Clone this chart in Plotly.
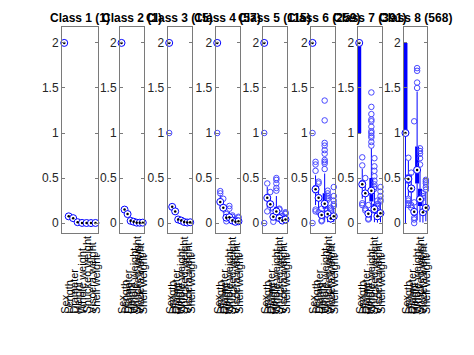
import plotly.graph_objects as go

FEATURES = ["Sex", "Length", "Diameter", "Height", "Whole weight",
            "Shucked weight", "Viscera weight", "Shell weight"]
CLASS_N = [1, 1, 15, 57, 115, 259, 391, 568]

# per class (rows) x per feature (columns)
MEDIAN = [
    [2, 0.075, 0.055, 0.010, 0.002, 0.001, 0.0005, 0.0015],
    [2, 0.150, 0.100, 0.025, 0.015, 0.0045, 0.004, 0.005],
    [2, 0.180, 0.130, 0.040, 0.028, 0.012, 0.006, 0.009],
    [2, 0.235, 0.170, 0.060, 0.065, 0.028, 0.014, 0.020],
    [2, 0.280, 0.210, 0.070, 0.130, 0.055, 0.028, 0.040],
    [2, 0.375, 0.280, 0.090, 0.215, 0.100, 0.050, 0.075],
    [2, 0.430, 0.330, 0.105, 0.360, 0.155, 0.075, 0.110],
    [1, 0.490, 0.385, 0.125, 0.590, 0.265, 0.120, 0.170],
]
Q1 = [
    [2, 0.075, 0.055, 0.010, 0.002, 0.001, 0.0005, 0.0015],
    [2, 0.150, 0.100, 0.025, 0.015, 0.0045, 0.004, 0.005],
    [2, 0.165, 0.120, 0.035, 0.020, 0.009, 0.004, 0.007],
    [2, 0.210, 0.155, 0.050, 0.045, 0.020, 0.010, 0.014],
    [2, 0.250, 0.190, 0.060, 0.090, 0.040, 0.020, 0.030],
    [2, 0.330, 0.245, 0.080, 0.160, 0.070, 0.035, 0.050],
    [1, 0.390, 0.300, 0.095, 0.240, 0.110, 0.055, 0.080],
    [1, 0.440, 0.340, 0.110, 0.440, 0.190, 0.090, 0.120],
]
Q3 = [
    [2, 0.075, 0.055, 0.010, 0.002, 0.001, 0.0005, 0.0015],
    [2, 0.150, 0.100, 0.025, 0.015, 0.0045, 0.004, 0.005],
    [2, 0.195, 0.145, 0.045, 0.035, 0.016, 0.008, 0.012],
    [2, 0.260, 0.195, 0.065, 0.085, 0.036, 0.018, 0.027],
    [2, 0.320, 0.240, 0.080, 0.180, 0.075, 0.038, 0.055],
    [2, 0.420, 0.315, 0.105, 0.330, 0.140, 0.070, 0.100],
    [2, 0.475, 0.360, 0.120, 0.500, 0.215, 0.100, 0.140],
    [2, 0.540, 0.420, 0.140, 0.850, 0.380, 0.160, 0.210],
]
WLO = [
    [2, 0.075, 0.055, 0.010, 0.002, 0.001, 0.0005, 0.0015],
    [2, 0.150, 0.100, 0.025, 0.015, 0.0045, 0.004, 0.005],
    [2, 0.130, 0.095, 0.025, 0.010, 0.004, 0.002, 0.004],
    [2, 0.160, 0.115, 0.035, 0.015, 0.006, 0.003, 0.005],
    [2, 0.170, 0.130, 0.035, 0.020, 0.010, 0.004, 0.008],
    [2, 0.200, 0.150, 0.045, 0.015, 0.010, 0.005, 0.010],
    [1, 0.270, 0.200, 0.065, 0.030, 0.010, 0.005, 0.010],
    [0, 0.300, 0.220, 0.070, 0.030, 0.010, 0.005, 0.020],
]
WHI = [
    [2, 0.075, 0.055, 0.010, 0.002, 0.001, 0.0005, 0.0015],
    [2, 0.150, 0.100, 0.025, 0.015, 0.0045, 0.004, 0.005],
    [2, 0.210, 0.165, 0.060, 0.060, 0.025, 0.012, 0.020],
    [2, 0.310, 0.235, 0.080, 0.130, 0.050, 0.028, 0.045],
    [2, 0.400, 0.300, 0.105, 0.300, 0.120, 0.060, 0.090],
    [2, 0.530, 0.410, 0.140, 0.550, 0.240, 0.120, 0.170],
    [2, 0.600, 0.460, 0.160, 0.830, 0.370, 0.165, 0.230],
    [2, 0.690, 0.540, 0.185, 1.460, 0.600, 0.260, 0.350],
]
OUTLIERS = [
    [[], [], [], [], [], [], [], []],
    [[], [], [], [], [], [], [], []],
    [[1], [], [], [], [], [], [], []],
    [[1], [0.355, 0.33], [0.27], [0.02, 0.10], [0.19, 0.16], [0.07, 0.085], [0.04], [0.06, 0.07]],
    [[1, 0], [0.44, 0.13], [0.345], [0.12, 0.015], [0.36, 0.39, 0.44, 0.48, 0.50],
     [0.15, 0.16], [0.075, 0.08], [0.10, 0.11, 0.12]],
    [[1, 0], [0.58, 0.65, 0.68, 0.15, 0.13], [0.44, 0.46, 0.12], [0.16, 0.02, 0.03],
     [0.60, 0.66, 0.68, 0.70, 0.77, 0.81, 0.86, 0.89, 1.14, 1.36],
     [0.26, 0.28, 0.30, 0.33, 0.36], [0.13, 0.15, 0.17], [0.19, 0.21, 0.25, 0.30, 0.40]],
    [[], [0.20, 0.22, 0.64, 0.73], [0.14, 0.16, 0.50], [0.04, 0.05, 0.20],
     [0.86, 0.90, 0.95, 0.97, 1.00, 1.02, 1.07, 1.13, 1.15, 1.21, 1.29, 1.45],
     [0.38, 0.40, 0.43, 0.47, 0.52, 0.58, 0.63, 0.72], [0.17, 0.19, 0.21, 0.25],
     [0.24, 0.26, 0.30, 0.35, 0.40]],
    [[], [0.725, 0.20, 0.22, 0.25, 0.27], [0.17, 0.20, 0.56], [1.13, 0.23, 0.0, 0.04, 0.06],
     [1.50, 1.56, 1.69, 1.72], [0.65, 0.72, 0.77, 0.80, 0.83], [0.28, 0.30, 0.33],
     [0.37, 0.40, 0.44, 0.46, 0.48]],
]

W, H = 474, 355
PANELS = [(62, 97.7), (120, 144.3), (167.7, 191.7), (215.7, 240),
          (262.7, 287), (311, 335.3), (357.7, 382), (404, 427.3)]
TOP, BOTTOM = 26.7, 233.0
BLUE = "#0000ff"
AXC = "#7a7a7a"
TXT = "#262626"
FONT = "Liberation Sans, Arial, sans-serif"

fig = go.Figure()
layout = dict(width=W, height=H, margin=dict(l=0, r=0, t=0, b=0),
              paper_bgcolor="white", plot_bgcolor="white", showlegend=False,
              hovermode=False, font=dict(family=FONT, color=TXT))
annotations = []

for i in range(8):
    sfx = "" if i == 0 else str(i + 1)
    xref, yref = "x" + sfx, "y" + sfx
    l, r = PANELS[i]
    layout["xaxis" + sfx] = dict(domain=[l / W, r / W], range=[0.5, 8.5], anchor=yref,
                                 showline=True, mirror=True, linecolor=AXC, linewidth=1,
                                 ticks="", showticklabels=False, showgrid=False, zeroline=False)
    layout["yaxis" + sfx] = dict(domain=[1 - BOTTOM / H, 1 - TOP / H], range=[-0.11, 2.18],
                                 anchor=xref, showline=True, mirror="ticks", linecolor=AXC,
                                 linewidth=1, ticks="inside", ticklen=3, tickcolor=AXC,
                                 tickvals=[0, 0.5, 1, 1.5, 2],
                                 tickfont=dict(size=12, color=TXT, family=FONT),
                                 showgrid=False, zeroline=False)
    pos = list(range(1, 9))
    wx, wy, bx, by, ox, oy = [], [], [], [], [], []
    for k in range(8):
        p = pos[k]
        if WLO[i][k] < Q1[i][k]:
            wx += [p, p, None]; wy += [WLO[i][k], Q1[i][k], None]
        if WHI[i][k] > Q3[i][k]:
            wx += [p, p, None]; wy += [Q3[i][k], WHI[i][k], None]
        if Q3[i][k] > Q1[i][k]:
            bx += [p, p, None]; by += [Q1[i][k], Q3[i][k], None]
        for v in OUTLIERS[i][k]:
            ox.append(p); oy.append(v)
    common = dict(xaxis=xref, yaxis=yref, cliponaxis=False, hoverinfo="skip")
    if wx:
        fig.add_trace(go.Scatter(x=wx, y=wy, mode="lines", line=dict(color=BLUE, width=1), **common))
    if bx:
        fig.add_trace(go.Scatter(x=bx, y=by, mode="lines", line=dict(color=BLUE, width=4), **common))
    if ox:
        fig.add_trace(go.Scatter(x=ox, y=oy, mode="markers",
                                 marker=dict(symbol="circle-open", size=5.5, color="#4848ff",
                                             line=dict(width=1)), **common))
    fig.add_trace(go.Scatter(x=pos, y=MEDIAN[i], mode="markers",
                             marker=dict(symbol="circle", size=7, color="white",
                                         line=dict(color=BLUE, width=1)), **common))
    fig.add_trace(go.Scatter(x=pos, y=MEDIAN[i], mode="markers",
                             marker=dict(symbol="circle", size=2.5, color="black"), **common))
    annotations.append(dict(text="<b>Class %d (%d)</b>" % (i + 1, CLASS_N[i]),
                            xref="paper", yref="paper", x=(l + r) / 2 / W, y=1 - 17.5 / H,
                            xanchor="center", yanchor="middle", showarrow=False,
                            font=dict(size=12, color="black", family=FONT)))
    for k, name in enumerate(FEATURES):
        annotations.append(dict(text=name, xref=xref, yref="paper", x=pos[k], y=1 - 315 / H,
                                xanchor="center", yanchor="bottom", textangle=-90,
                                showarrow=False, borderpad=0,
                                font=dict(size=11, color="black", family=FONT)))

layout["annotations"] = annotations
fig.update_layout(**layout)
fig.write_html("out.html", config={"displayModeBar": False, "staticPlot": True},
               post_script="document.body.style.margin='0px';document.body.style.overflow='hidden';")
